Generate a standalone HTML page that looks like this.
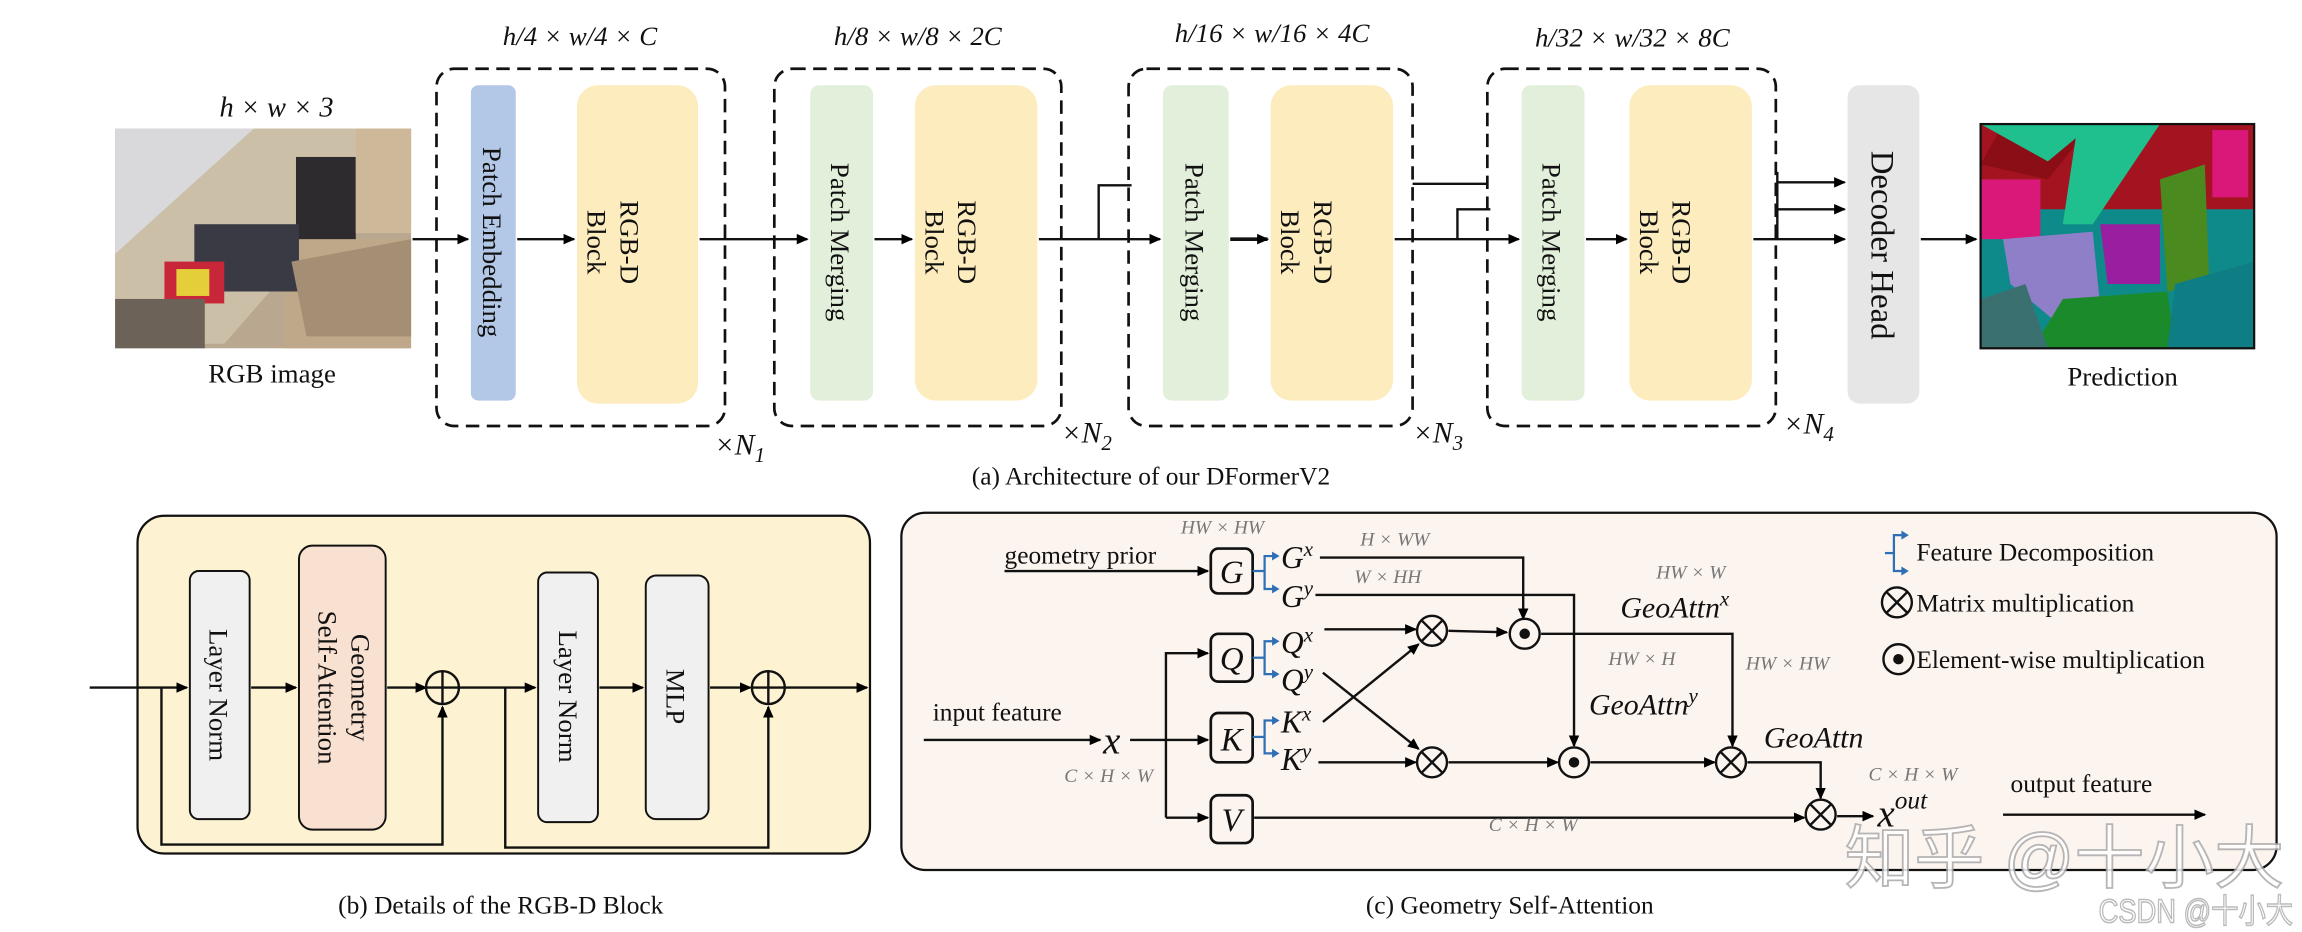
<!DOCTYPE html>
<html><head><meta charset="utf-8"><style>
html,body{margin:0;padding:0;background:#fff;}
svg{display:block;}
.t{font-family:"Liberation Serif",serif;fill:#111;}
.m{font-family:"Liberation Serif",serif;font-style:italic;fill:#111;}
.g{font-family:"Liberation Serif",serif;font-style:italic;fill:#777;font-size:13px;}
</style></head><body>
<svg width="2302" height="932" viewBox="0 0 1540 623.5" xmlns="http://www.w3.org/2000/svg">
<defs>
<marker id="a" markerWidth="8" markerHeight="8" refX="7" refY="4" orient="auto" markerUnits="userSpaceOnUse"><path d="M0,0.5 L8,4 L0,7.5 z" fill="#000"/></marker>
<g id="ot"><circle cx="0" cy="0" r="10"/><line x1="-7" y1="-7" x2="7" y2="7"/><line x1="7" y1="-7" x2="-7" y2="7"/></g>
</defs>
<rect width="1540" height="624" fill="#fff"/>

<!-- ===== (a) ===== -->
<text class="m" x="185" y="78" font-size="19" text-anchor="middle">h × w × 3</text>
<g>
<rect x="77" y="86" width="198" height="147" fill="#b9a88f"/>
<polygon points="77,86 170,86 77,170" fill="#d9d9dc"/>
<polygon points="170,86 275,86 275,150 220,150 150,230 77,230 77,170" fill="#cbbfa8"/>
<rect x="198" y="105" width="40" height="95" fill="#2e2b2e"/>
<rect x="238" y="86" width="37" height="70" fill="#cdb89a"/>
<rect x="190" y="160" width="85" height="73" fill="#bfa88a"/>
<rect x="130" y="150" width="70" height="45" fill="#3a3a44"/>
<rect x="110" y="175" width="40" height="28" fill="#c8273a"/>
<rect x="118" y="180" width="22" height="18" fill="#e4cf3a"/>
<rect x="77" y="200" width="60" height="33" fill="#6d6257"/>
<polygon points="195,175 275,160 275,225 205,225" fill="#a58f74"/>
</g>
<text class="t" x="182" y="256" font-size="18" text-anchor="middle">RGB image</text>

<text class="m" x="388" y="30" font-size="18" text-anchor="middle">h/4 × w/4 × C</text>
<text class="m" x="614" y="30" font-size="18" text-anchor="middle">h/8 × w/8 × 2C</text>
<text class="m" x="851" y="28" font-size="18" text-anchor="middle">h/16 × w/16 × 4C</text>
<text class="m" x="1092" y="31" font-size="18" text-anchor="middle">h/32 × w/32 × 8C</text>

<g fill="none" stroke="#111" stroke-width="1.8" stroke-dasharray="9,5">
<rect x="292" y="46" width="193" height="239" rx="12"/>
<rect x="518" y="46" width="192" height="239" rx="12"/>
<rect x="755" y="46" width="190" height="239" rx="12"/>
<rect x="995" y="46" width="193" height="239" rx="12"/>
</g>
<rect x="315" y="57" width="30" height="211" rx="5" fill="#b3c7e6"/>
<rect x="386" y="57" width="81" height="213" rx="14" fill="#fdecbd"/>
<rect x="542" y="57" width="42" height="211" rx="6" fill="#e2efda"/>
<rect x="612" y="57" width="82" height="211" rx="14" fill="#fdecbd"/>
<rect x="778" y="57" width="44" height="211" rx="6" fill="#e2efda"/>
<rect x="850" y="57" width="82" height="211" rx="14" fill="#fdecbd"/>
<rect x="1018" y="57" width="42" height="211" rx="6" fill="#e2efda"/>
<rect x="1090" y="57" width="82" height="211" rx="14" fill="#fdecbd"/>
<rect x="1236" y="57" width="48" height="213" rx="8" fill="#e6e6e6"/>

<g class="t" font-size="18">
<text transform="translate(323,162) rotate(90)" text-anchor="middle">Patch Embedding</text>
<text transform="translate(415,162) rotate(90)" text-anchor="middle">RGB-D</text>
<text transform="translate(393,162) rotate(90)" text-anchor="middle">Block</text>
<text transform="translate(556,162) rotate(90)" text-anchor="middle">Patch Merging</text>
<text transform="translate(641,162) rotate(90)" text-anchor="middle">RGB-D</text>
<text transform="translate(619,162) rotate(90)" text-anchor="middle">Block</text>
<text transform="translate(793,162) rotate(90)" text-anchor="middle">Patch Merging</text>
<text transform="translate(879,162) rotate(90)" text-anchor="middle">RGB-D</text>
<text transform="translate(857,162) rotate(90)" text-anchor="middle">Block</text>
<text transform="translate(1032,162) rotate(90)" text-anchor="middle">Patch Merging</text>
<text transform="translate(1119,162) rotate(90)" text-anchor="middle">RGB-D</text>
<text transform="translate(1097,162) rotate(90)" text-anchor="middle">Block</text>
<text transform="translate(1252,164) rotate(90)" text-anchor="middle" font-size="22">Decoder Head</text>
</g>

<g stroke="#111" stroke-width="1.6" fill="none">
<line x1="276" y1="160" x2="313" y2="160" marker-end="url(#a)"/>
<line x1="346" y1="160" x2="384" y2="160" marker-end="url(#a)"/>
<line x1="468" y1="160" x2="540" y2="160" marker-end="url(#a)"/>
<line x1="585" y1="160" x2="610" y2="160" marker-end="url(#a)"/>
<line x1="695" y1="160" x2="776" y2="160" marker-end="url(#a)"/>
<polyline points="735,160 735,124 757,124"/>
<line x1="823" y1="160" x2="848" y2="160" marker-end="url(#a)" stroke-width="2.4"/>
<line x1="933" y1="160" x2="1016" y2="160" marker-end="url(#a)"/>
<polyline points="945,123 995,123"/>
<polyline points="975,160 975,140 997,140"/>
<line x1="1061" y1="160" x2="1088" y2="160" marker-end="url(#a)"/>
<line x1="1173" y1="160" x2="1234" y2="160" marker-end="url(#a)"/>
<polyline points="1189,122 1234,122" marker-end="url(#a)"/>
<polyline points="1189,140 1234,140" marker-end="url(#a)"/>
<line x1="1189" y1="115" x2="1189" y2="160"/>
<line x1="1285" y1="160" x2="1322" y2="160" marker-end="url(#a)"/>
</g>

<g>
<rect x="1325" y="83" width="183" height="150" fill="#0f8a8a"/>
<polygon points="1325,83 1508,83 1508,140 1325,140" fill="#a31420"/>
<polygon points="1340,83 1400,83 1370,120 1325,110" fill="#8b0d16"/>
<polygon points="1390,83 1445,83 1400,150 1380,150" fill="#1fbf8e"/>
<polygon points="1325,83 1400,83 1370,108" fill="#1fbf8e"/>
<rect x="1480" y="87" width="24" height="45" fill="#d9187a"/>
<rect x="1325" y="120" width="40" height="40" fill="#d9187a"/>
<polygon points="1445,120 1475,110 1478,190 1450,195" fill="#4a8a1e"/>
<polygon points="1340,160 1400,155 1405,205 1375,215 1345,190" fill="#8f7fc8"/>
<polygon points="1405,150 1445,150 1445,190 1410,190" fill="#9a1ea0"/>
<polygon points="1360,233 1380,200 1450,195 1455,233" fill="#1a8a2a"/>
<polygon points="1455,190 1508,175 1508,233 1450,233" fill="#0f7e84"/>
<polygon points="1325,200 1355,190 1370,233 1325,233" fill="#3b7070"/>
<rect x="1325" y="83" width="183" height="150" fill="none" stroke="#111" stroke-width="1.5"/>
</g>
<text class="t" x="1420" y="258" font-size="18" text-anchor="middle">Prediction</text>

<g class="m" font-size="20">
<text x="478" y="304">×N<tspan font-size="14" dy="5">1</tspan></text>
<text x="710" y="296">×N<tspan font-size="14" dy="5">2</tspan></text>
<text x="945" y="296">×N<tspan font-size="14" dy="5">3</tspan></text>
<text x="1193" y="290">×N<tspan font-size="14" dy="5">4</tspan></text>
</g>
<text class="t" x="770" y="324" font-size="17" text-anchor="middle">(a) Architecture of our DFormerV2</text>

<!-- ===== (b) ===== -->
<rect x="92" y="345" width="490" height="226" rx="18" fill="#fdf2d2" stroke="#111" stroke-width="1.5"/>
<rect x="127" y="382" width="40" height="166" rx="6" fill="#f0f0f0" stroke="#111" stroke-width="1.3"/>
<rect x="200" y="365" width="58" height="190" rx="9" fill="#f9e1d2" stroke="#111" stroke-width="1.3"/>
<rect x="360" y="383" width="40" height="167" rx="6" fill="#f0f0f0" stroke="#111" stroke-width="1.3"/>
<rect x="432" y="385" width="42" height="163" rx="7" fill="#f0f0f0" stroke="#111" stroke-width="1.3"/>
<g class="t" font-size="18">
<text transform="translate(140,465) rotate(90)" text-anchor="middle">Layer Norm</text>
<text transform="translate(235,460) rotate(90)" text-anchor="middle">Geometry</text>
<text transform="translate(213,460) rotate(90)" text-anchor="middle">Self-Attention</text>
<text transform="translate(374,466) rotate(90)" text-anchor="middle">Layer Norm</text>
<text transform="translate(446,466) rotate(90)" text-anchor="middle">MLP</text>
</g>
<g stroke="#111" stroke-width="1.6" fill="none">
<line x1="60" y1="460" x2="125" y2="460" marker-end="url(#a)"/>
<line x1="168" y1="460" x2="198" y2="460" marker-end="url(#a)"/>
<line x1="259" y1="460" x2="285" y2="460" marker-end="url(#a)"/>
<circle cx="296" cy="460" r="11"/><line x1="285" y1="460" x2="307" y2="460"/><line x1="296" y1="449" x2="296" y2="471"/>
<polyline points="108,460 108,565 296,565 296,473" marker-end="url(#a)"/>
<line x1="307" y1="460" x2="358" y2="460" marker-end="url(#a)"/>
<line x1="401" y1="460" x2="430" y2="460" marker-end="url(#a)"/>
<line x1="475" y1="460" x2="502" y2="460" marker-end="url(#a)"/>
<circle cx="514" cy="460" r="11"/><line x1="503" y1="460" x2="525" y2="460"/><line x1="514" y1="449" x2="514" y2="471"/>
<polyline points="338,460 338,567 514,567 514,473" marker-end="url(#a)"/>
<line x1="525" y1="460" x2="580" y2="460" marker-end="url(#a)"/>
</g>
<text class="t" x="335" y="611" font-size="17" text-anchor="middle">(b) Details of the RGB-D Block</text>

<!-- ===== (c) ===== -->
<rect x="603" y="343" width="920" height="239" rx="16" fill="#fcf4ef" stroke="#111" stroke-width="1.5"/>
<text class="t" x="672" y="377" font-size="17">geometry prior</text>
<text class="t" x="624" y="482" font-size="17">input feature</text>
<text class="m" x="738" y="504" font-size="26">x</text>
<text class="g" x="712" y="523">C × H × W</text>
<text class="g" x="790" y="357">HW × HW</text>

<g stroke="#111" stroke-width="1.6" fill="none">
<rect x="810" y="367" width="28" height="30" rx="5" stroke-width="1.8"/>
<rect x="810" y="424" width="28" height="32" rx="5" stroke-width="1.8"/>
<rect x="810" y="477" width="28" height="33" rx="5" stroke-width="1.8"/>
<rect x="810" y="532" width="28" height="32" rx="5" stroke-width="1.8"/>
<line x1="672" y1="382" x2="808" y2="382" marker-end="url(#a)"/>
<line x1="618" y1="495" x2="736" y2="495" marker-end="url(#a)"/>
<line x1="756" y1="495" x2="808" y2="495" marker-end="url(#a)"/>
<polyline points="780,547 780,437 808,437" marker-end="url(#a)"/>
<line x1="780" y1="547" x2="808" y2="547" marker-end="url(#a)"/>
</g>
<g class="m" font-size="22" text-anchor="middle">
<text x="824" y="390">G</text><text x="824" y="448">Q</text><text x="824" y="502">K</text><text x="824" y="556">V</text>
</g>
<g stroke="#2f6fb5" stroke-width="1.5" fill="none">
<line x1="838" y1="382" x2="846" y2="382"/><polyline points="852,372 846,372 846,394 852,394"/>
<line x1="838" y1="440" x2="846" y2="440"/><polyline points="852,429 846,429 846,451 852,451"/>
<line x1="838" y1="493" x2="846" y2="493"/><polyline points="852,482 846,482 846,504 852,504"/>
</g>
<g fill="#2f6fb5">
<path d="M851,369 l5,3 -5,3z"/><path d="M851,391 l5,3 -5,3z"/>
<path d="M851,426 l5,3 -5,3z"/><path d="M851,448 l5,3 -5,3z"/>
<path d="M851,479 l5,3 -5,3z"/><path d="M851,501 l5,3 -5,3z"/>
</g>
<g class="m" font-size="21">
<text x="857" y="380">G<tspan font-size="14" dy="-8">x</tspan></text>
<text x="857" y="406">G<tspan font-size="14" dy="-8">y</tspan></text>
<text x="857" y="437">Q<tspan font-size="14" dy="-8">x</tspan></text>
<text x="857" y="462">Q<tspan font-size="14" dy="-8">y</tspan></text>
<text x="857" y="490">K<tspan font-size="14" dy="-8">x</tspan></text>
<text x="857" y="515">K<tspan font-size="14" dy="-8">y</tspan></text>
</g>
<text class="g" x="910" y="365">H × WW</text>
<text class="g" x="906" y="390">W × HH</text>

<g stroke="#111" stroke-width="1.6" fill="none">
<polyline points="883,373 1019,373 1019,414" marker-end="url(#a)"/>
<polyline points="880,398 1053,398 1053,499" marker-end="url(#a)"/>
<line x1="886" y1="421" x2="947" y2="421" marker-end="url(#a)"/>
<line x1="885" y1="450" x2="949" y2="501" marker-end="url(#a)"/>
<line x1="885" y1="483" x2="949" y2="431" marker-end="url(#a)"/>
<line x1="882" y1="510" x2="947" y2="510" marker-end="url(#a)"/>
<line x1="969" y1="422" x2="1008" y2="423" marker-end="url(#a)"/>
<line x1="969" y1="510" x2="1042" y2="510" marker-end="url(#a)"/>
<polyline points="1031,424 1159,424 1159,499" marker-end="url(#a)"/>
<line x1="1064" y1="510" x2="1147" y2="510" marker-end="url(#a)"/>
<polyline points="1169,510 1218,510 1218,534" marker-end="url(#a)"/>
<line x1="839" y1="547" x2="1207" y2="547" marker-end="url(#a)"/>
<line x1="1229" y1="546" x2="1253" y2="546" marker-end="url(#a)"/>
<line x1="1340" y1="545" x2="1475" y2="545" marker-end="url(#a)"/>
</g>
<g stroke="#111" stroke-width="1.6" fill="#fcf4ef">
<use href="#ot" x="958" y="422"/>
<use href="#ot" x="958" y="510"/>
<use href="#ot" x="1158" y="510"/>
<use href="#ot" x="1218" y="545"/>
<circle cx="1020" cy="424" r="10"/>
<circle cx="1053" cy="510" r="10"/>
</g>
<circle cx="1020" cy="424" r="3.5" fill="#111"/>
<circle cx="1053" cy="510" r="3.5" fill="#111"/>

<text class="g" x="1108" y="387">HW × W</text>
<text class="m" x="1084" y="413" font-size="20">GeoAttn<tspan font-size="14" dy="-8">x</tspan></text>
<text class="g" x="1076" y="445">HW × H</text>
<text class="m" x="1063" y="478" font-size="20">GeoAttn<tspan font-size="14" dy="-8">y</tspan></text>
<text class="g" x="1168" y="448">HW × HW</text>
<text class="m" x="1180" y="500" font-size="20">GeoAttn</text>
<text class="g" x="996" y="556">C × H × W</text>
<text class="g" x="1250" y="522">C × H × W</text>
<text class="m" x="1256" y="553" font-size="26">x<tspan font-size="17" dy="-12">out</tspan></text>
<text class="t" x="1345" y="530" font-size="17">output feature</text>

<g stroke="#2f6fb5" stroke-width="1.5" fill="none">
<line x1="1261" y1="370" x2="1267" y2="370"/><polyline points="1273,358 1267,358 1267,382 1273,382"/>
</g>
<path d="M1272,355 l5,3 -5,3z M1272,379 l5,3 -5,3z" fill="#2f6fb5"/>
<text class="t" x="1282" y="375" font-size="17">Feature Decomposition</text>
<g stroke="#111" stroke-width="1.6" fill="none">
<use href="#ot" x="1269" y="403"/>
<circle cx="1270" cy="441" r="10"/>
</g>
<circle cx="1270" cy="441" r="3.5" fill="#111"/>
<text class="t" x="1282" y="409" font-size="17">Matrix multiplication</text>
<text class="t" x="1282" y="447" font-size="17">Element-wise multiplication</text>

<text class="t" x="1010" y="611" font-size="17" text-anchor="middle">(c) Geometry Self-Attention</text>

<text x="1234" y="590" textLength="294" lengthAdjust="spacingAndGlyphs" font-family="'Liberation Sans','Noto Sans CJK SC',sans-serif" font-size="46" fill="#fff" stroke="#aaa" stroke-width="1.2" opacity="0.85">知乎 @十小大</text>
<text x="1404" y="617" textLength="130" lengthAdjust="spacingAndGlyphs" font-family="'Liberation Sans','Noto Sans CJK SC',sans-serif" font-size="22" fill="#fff" stroke="#bbb" stroke-width="1">CSDN @十小大</text>
</svg>
</body></html>
